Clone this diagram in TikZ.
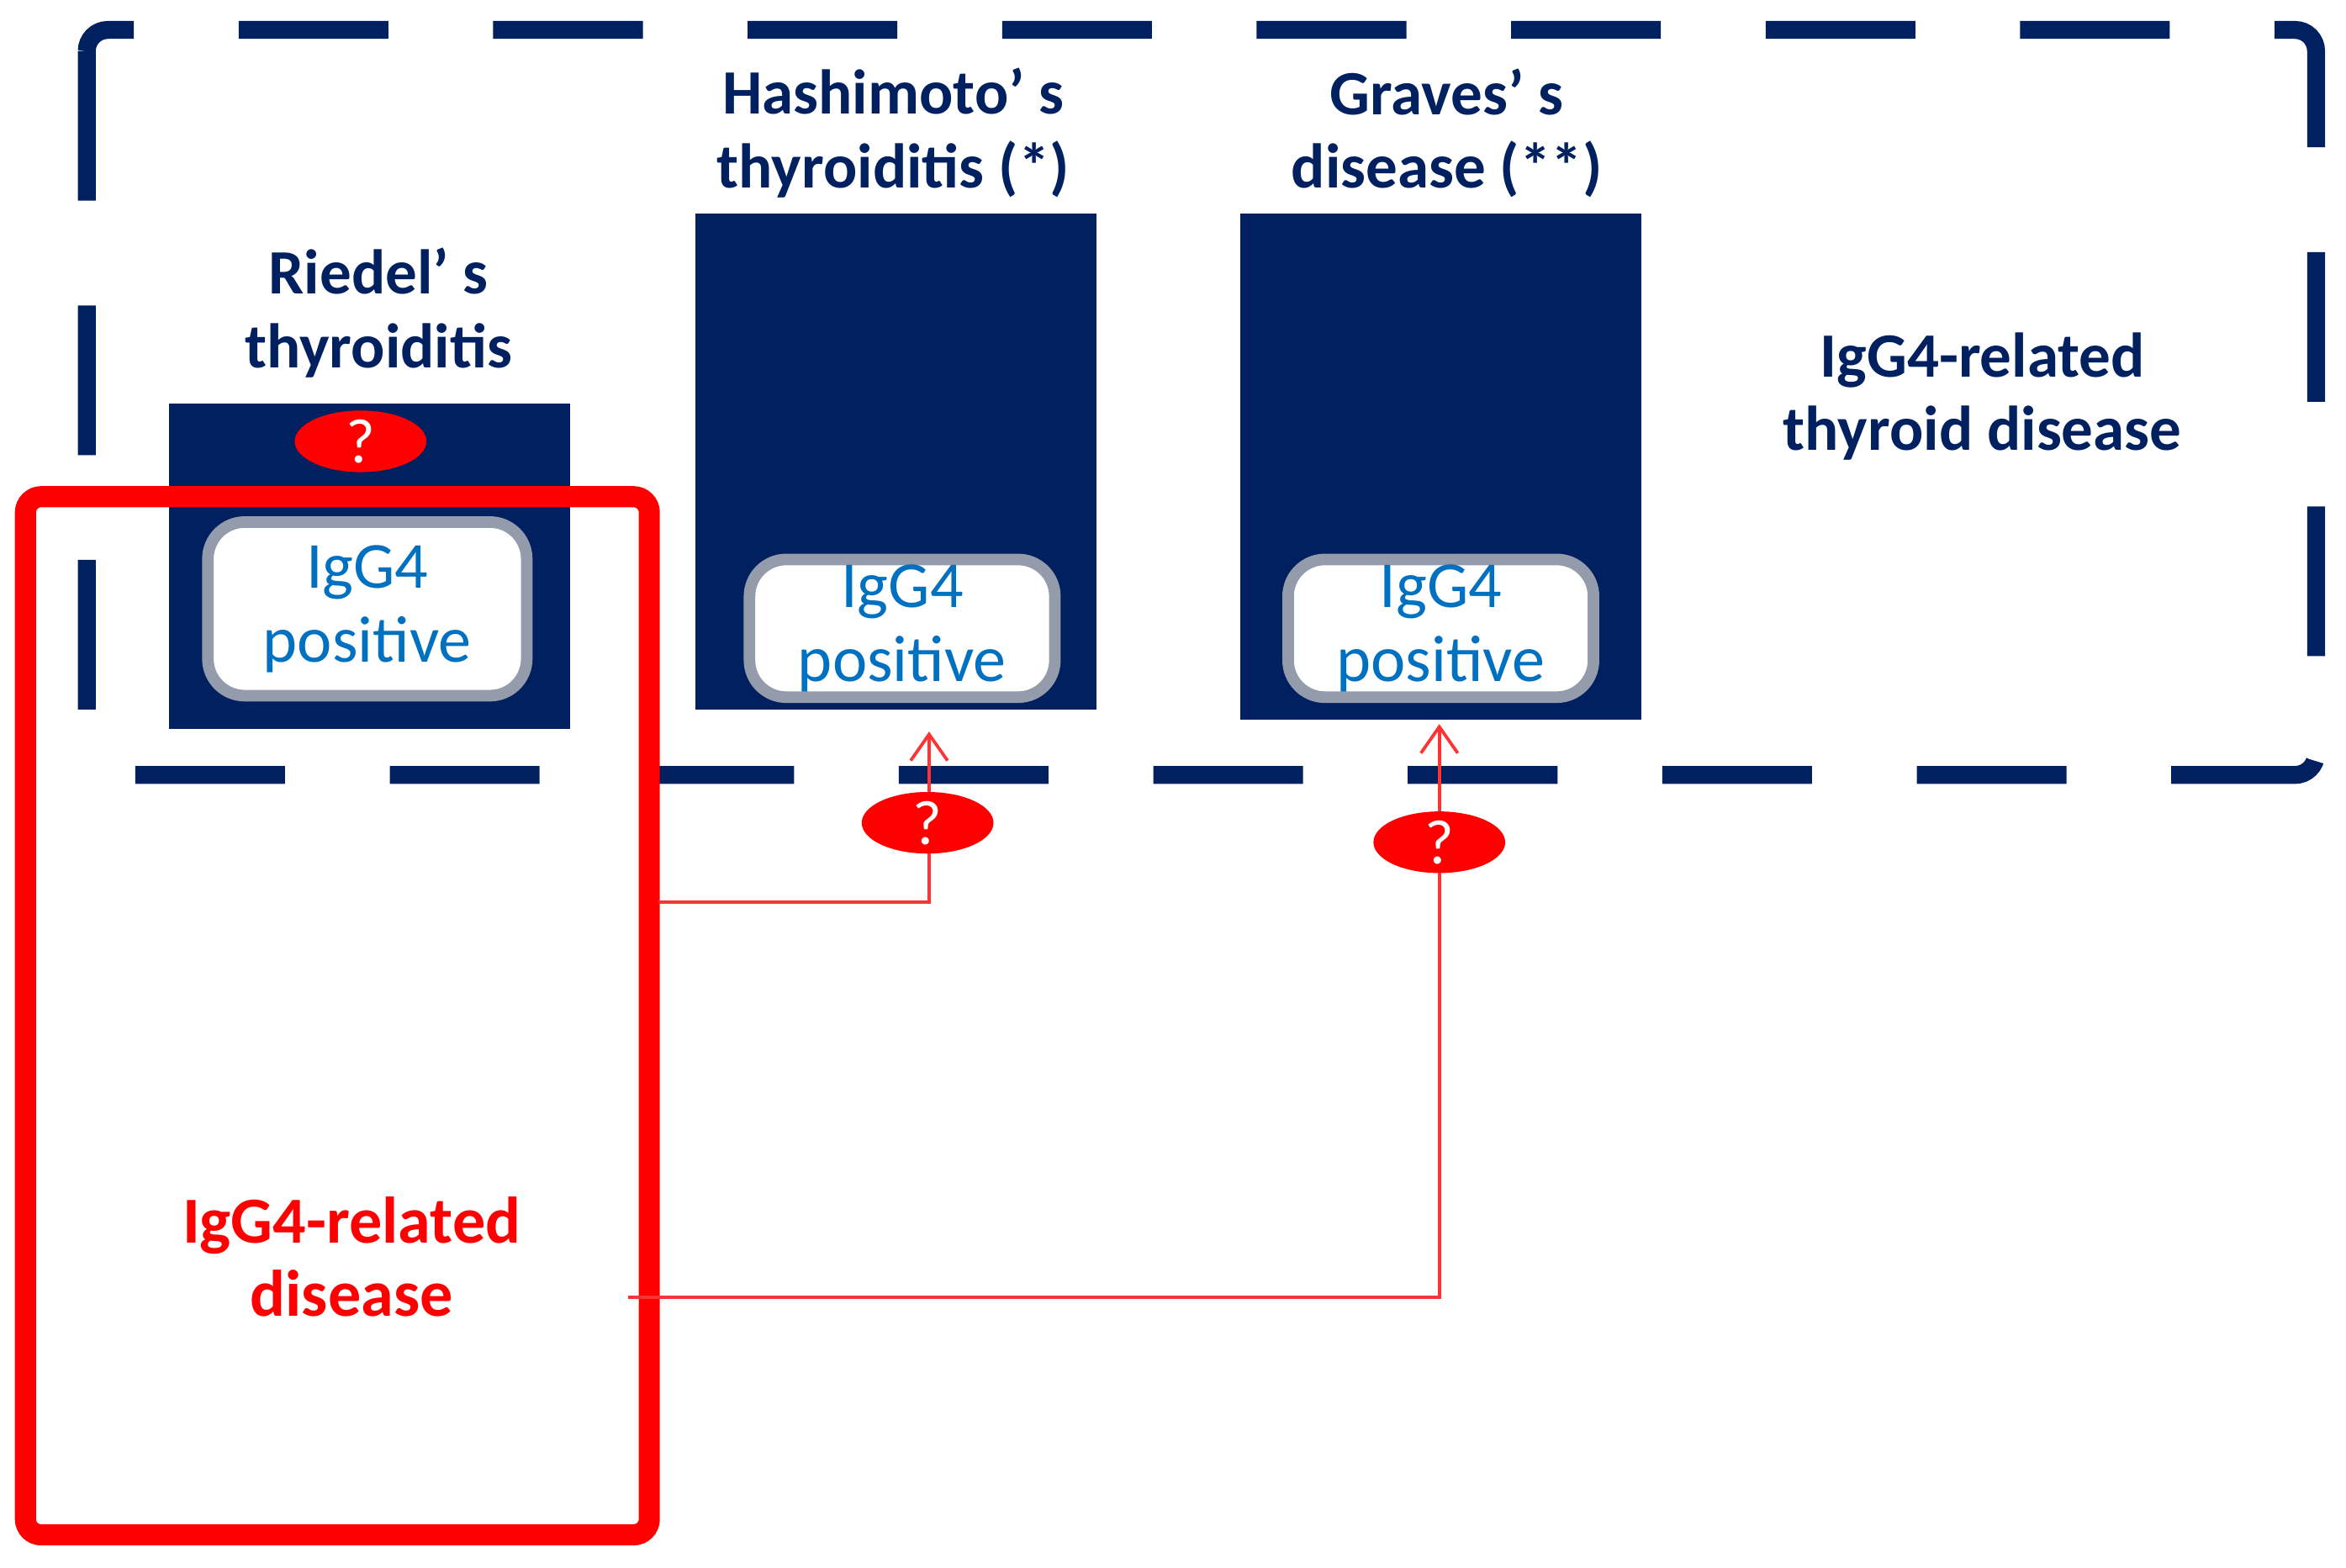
\documentclass[tikz,border=0pt]{standalone}
\usepackage{fontspec}
\setmainfont{Carlito}
\usetikzlibrary{arrows.meta,shapes.geometric}
\definecolor{navy}{RGB}{0,32,96}
\definecolor{lblue}{RGB}{0,112,192}
\definecolor{rred}{RGB}{255,0,0}
\begin{document}
\begin{tikzpicture}[x=0.01cm,y=-0.01cm,
  box/.style={fill=navy,draw=none},
  inner/.style={fill=white,draw=navy!40!gray!60,line width=2.2pt,rounded corners=7pt,align=center,text=lblue,font=\fontsize{12.5}{14}\selectfont,inner sep=0pt},
  title/.style={align=center,text=navy,font=\bfseries\fontsize{12}{14}\selectfont},
  q/.style={ellipse,fill=rred,draw=none,text=white,minimum width=0.88cm,minimum height=0.36cm,inner sep=0pt,font=\fontsize{12}{12}\selectfont},
  link/.style={draw=rred!80,line width=0.6pt},
  tip/.style={-{Straight Barb[length=5pt,width=7pt]}}]
\useasboundingbox (0,0) rectangle (1568,1048);
\draw[navy,line width=3.4pt,dash pattern=on 1cm off 0.7cm,rounded corners=4pt] (58,20) rectangle (1548,518);
% Riedel
\node[box,minimum width=2.68cm,minimum height=2.17cm,inner sep=0pt] (rb) at (247,378.5) {};
\node[title] (rt) at (253,209) {Riedel’ s\\thyroiditis};
\node[inner,minimum width=2.13cm,minimum height=1.16cm] (ri) at (245.5,407) {IgG4\\positive};
\node[q] (rq) at (241,295) {?};
% Hashimoto
\node[box,minimum width=2.68cm,minimum height=3.31cm,inner sep=0pt] (hb) at (599,308.5) {};
\node[title] (ht) at (597,89) {Hashimoto’ s\\thyroiditis (*)};
\node[inner,minimum width=2.04cm,minimum height=0.92cm] (hi) at (603,420) {IgG4\\positive};
% Graves
\node[box,minimum width=2.68cm,minimum height=3.38cm,inner sep=0pt] (gb) at (963,312) {};
\node[title] (gt) at (967,89) {Graves’ s\\disease (**)};
\node[inner,minimum width=2.04cm,minimum height=0.92cm] (gi) at (963,420) {IgG4\\positive};
\node[title] (it) at (1325,265) {IgG4-related\\thyroid disease};
% red
\draw[rred,line width=4pt,rounded corners=3pt] (17,332) rectangle (434,1026);
\node[align=center,text=rred,font=\bfseries\fontsize{12.5}{14}\selectfont] (rd) at (235,840) {IgG4-related\\disease};
\coordinate (s1) at (440,603);
\coordinate (s2) at (420,867);
\coordinate (e1) at (621,489);
\coordinate (e2) at (962,484);
\draw[link,tip] (s1) -| (e1);
\draw[link,tip] (s2) -| (e2);
\node[q] (hq) at (620,550) {?};
\node[q] (gq) at (962,563) {?};
\end{tikzpicture}
\end{document}
